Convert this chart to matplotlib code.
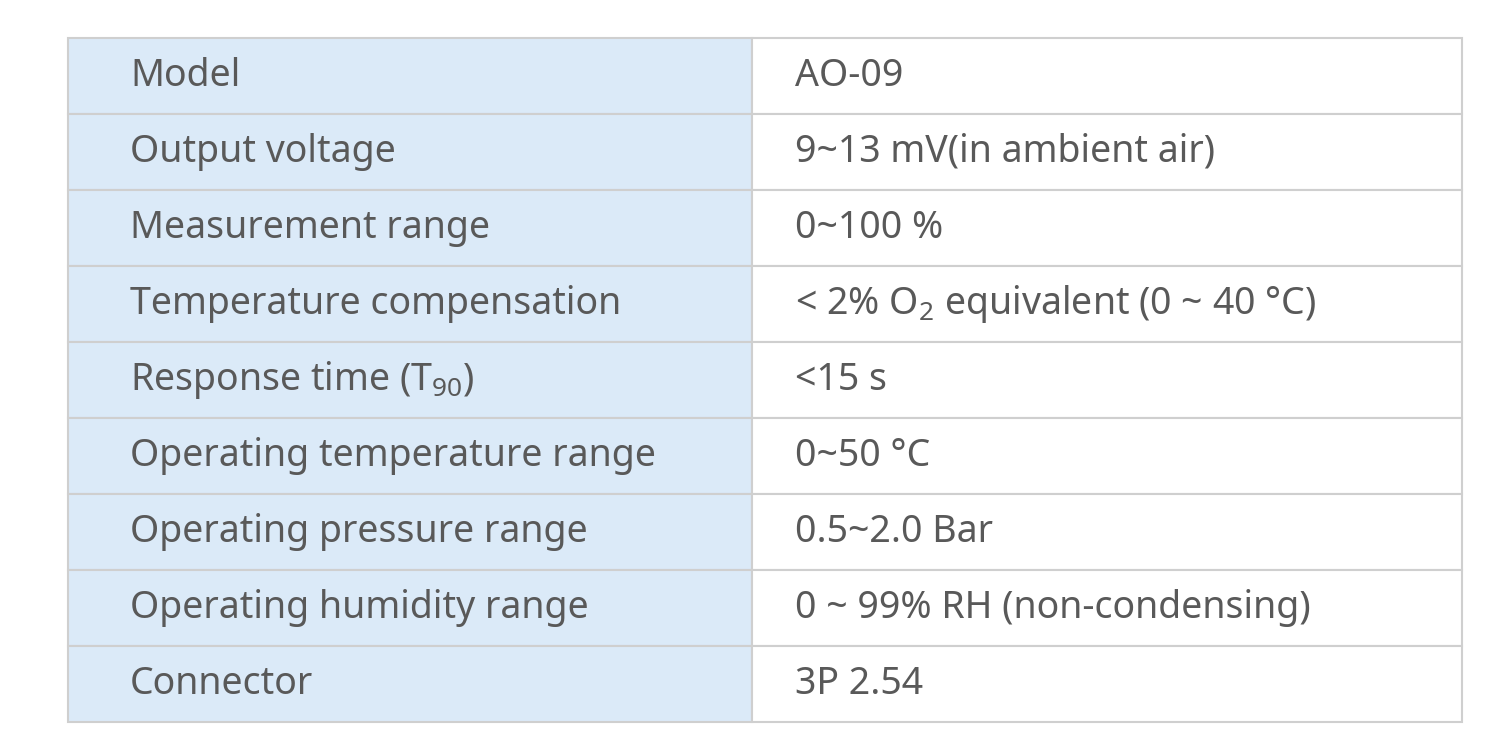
import matplotlib.pyplot as plt
from matplotlib.patches import Rectangle

plt.rcParams["font.family"] = ["Noto Sans", "DejaVu Sans"]
plt.rcParams["mathtext.fontset"] = "custom"
plt.rcParams["mathtext.rm"] = "Noto Sans"
plt.rcParams["mathtext.it"] = "Noto Sans"

labels = [
    "Model",
    "Output voltage",
    "Measurement range",
    "Temperature compensation",
    "Response time (T$_{90}$)",
    "Operating temperature range",
    "Operating pressure range",
    "Operating humidity range",
    "Connector",
]
values = [
    "AO-09",
    "9~13 mV(in ambient air)",
    "0~100 %",
    "< 2% O$_2$ equivalent (0 ~ 40 °C)",
    "<15 s",
    "0~50 °C",
    "0.5~2.0 Bar",
    "0 ~ 99% RH (non-condensing)",
    "3P 2.54",
]

left, mid, right = 68, 752, 1462
top, bottom = 38, 722
row_h = (bottom - top) / len(labels)
text_color = "#595959"
line_color = "#cfcfcf"

fig = plt.figure(figsize=(15.12, 7.56), dpi=100)
ax = fig.add_axes([0, 0, 1, 1])
ax.set_xlim(0, 1512)
ax.set_ylim(756, 0)
ax.axis("off")

for i, (lab, val) in enumerate(zip(labels, values)):
    y0 = top + i * row_h
    ax.add_patch(Rectangle((left, y0), mid - left, row_h, facecolor="#dbeaf8",
                           edgecolor=line_color, linewidth=1.5))
    ax.add_patch(Rectangle((mid, y0), right - mid, row_h, facecolor="white",
                           edgecolor=line_color, linewidth=1.5))
    weight = "bold" if i == 0 else "normal"
    yc = y0 + row_h / 2
    ax.text(130, yc, lab, fontsize=27, color=text_color, va="center", ha="left",
            fontweight=weight)
    ax.text(795, yc, val, fontsize=27, color=text_color, va="center", ha="left",
            fontweight=weight)

fig.savefig("out.png", dpi=100)
